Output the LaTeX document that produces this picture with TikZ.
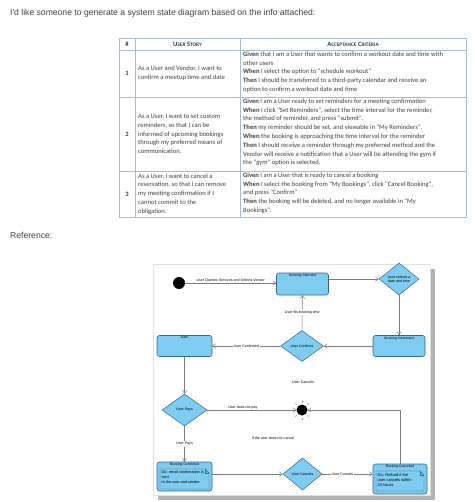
\documentclass[tikz,border=0pt]{standalone}
\usepackage{fontspec}
\usepackage{xcolor}
\usepackage{tikz}
\usetikzlibrary{arrows.meta,positioning,calc,shapes.geometric}
\newfontfamily\uifont{Liberation Sans}
\newfontfamily\tabfont{Carlito}
\definecolor{inktext}{RGB}{64,64,64}
\definecolor{tabline}{RGB}{167,187,213}
\definecolor{stfill}{RGB}{126,204,240}
\definecolor{stedge}{RGB}{52,104,140}
\definecolor{flowgray}{RGB}{125,125,125}
\newcommand{\fsc}[2]{#1{\fontsize{5.3}{6}\selectfont #2}}
\newcommand{\umlstate}[6]{\node[stbox,minimum width=#4,minimum height=#5] (#1) at (#2,#3) {};
  \node[sttitle] (#1t) at (#1.north) {#6};}
\newcommand{\umlnote}[4]{\draw[notebox] (#1,#2) -- (#3-4,#2) -- (#3,#2+4) -- (#3,#4) -- (#1,#4) -- cycle;
  \draw[notebox,fill=none] (#3-4,#2) -- (#3-4,#2+4) -- (#3,#2+4);}

\begin{document}
\begin{tikzpicture}[x=1pt,y=-1pt,
  stbox/.style={draw=stedge,fill=stfill,rounded corners=2.5pt,line width=0.6pt,inner sep=0pt},
  sttitle/.style={anchor=north,font=\uifont\fontsize{3.4}{4}\selectfont,inner sep=1.2pt},
  choice/.style={diamond,draw=stedge,fill=stfill,line width=0.5pt,inner sep=0pt,align=center,font=\uifont\fontsize{3.6}{4.4}\selectfont},
  flow/.style={draw=flowgray,line width=0.5pt,-{Straight Barb[length=3pt,width=4.5pt]}},
  lbl/.style={fill=white,inner sep=1pt,font=\uifont\fontsize{3.6}{4.2}\selectfont},
  notebox/.style={draw=stedge,fill=stfill,line width=0.4pt},
  notetxt/.style={anchor=north west,inner sep=0pt,align=left,font=\uifont\fontsize{3.8}{5}\selectfont},
  tabtxt/.style={inner sep=0pt,align=left,text=inktext,font=\tabfont\fontsize{6.6}{8.8}\selectfont},
  uitxt/.style={anchor=west,inner sep=0pt,text=inktext,font=\uifont\fontsize{8.6}{10}\selectfont}]
\useasboundingbox[fill=white] (0,0) rectangle (474,502);

% request text
\node[uitxt] (ask) at (10,13) {I'd like someone to generate a system state diagram based on the info attached:};
\node[uitxt] (refword) at (10,235) {Reference:};

% user story table
\draw[tabline,line width=0.6pt] (119,38) rectangle (466,217);
\foreach \y in {50,97,171} \draw[tabline,line width=0.6pt] (119,\y) -- (466,\y);
\foreach \x in {135,240} \draw[tabline,line width=0.6pt] (\x,38) -- (\x,217);
\node[tabtxt,font=\tabfont\bfseries\fontsize{6.6}{8}\selectfont] (hdrNum) at (127,44) {\#};
\node[tabtxt,font=\tabfont\bfseries\fontsize{6.6}{8}\selectfont] (hdrStory) at (187.5,44) {\fsc{U}{SER} \fsc{S}{TORY}};
\node[tabtxt,font=\tabfont\bfseries\fontsize{6.6}{8}\selectfont] (hdrCrit) at (353,44) {\fsc{A}{CCEPTANCE} \fsc{C}{RITERIA}};
\node[tabtxt,font=\tabfont\bfseries\fontsize{6.6}{8}\selectfont] (num1) at (127,73.5) {1};
\node[tabtxt,font=\tabfont\bfseries\fontsize{6.6}{8}\selectfont] (num2) at (127,134) {2};
\node[tabtxt,font=\tabfont\bfseries\fontsize{6.6}{8}\selectfont] (num3) at (127,194) {3};
\node[tabtxt,anchor=west] (story1) at (138,73.5) {As a User and Vendor, I want to\\confirm a meetup time and date};
\node[tabtxt,anchor=west] (story2) at (138,134) {As a User, I want to set custom\\reminders, so that I can be\\informed of upcoming bookings\\through my preferred means of\\communication.};
\node[tabtxt,anchor=west] (story3) at (138,194) {As a User, I want to cancel a\\reservation, so that I can remove\\my meeting confirmation if I\\cannot commit to the\\obligation.};
\node[tabtxt,anchor=north west] (crit1) at (243,51.5) {\textbf{Given} that I am a User that wants to confirm a workout date and time with\\other users\\\textbf{When} I select the option to "schedule workout"\\\textbf{Then} I should be transferred to a third-party calendar and receive an\\option to confirm a workout date and time};
\node[tabtxt,anchor=north west] (crit2) at (243,98.5) {\textbf{Given} I am a User ready to set reminders for a meeting confirmation\\\textbf{When} I click "Set Reminders", select the time interval for the reminder,\\the method of reminder, and press "submit".\\\textbf{Then} my reminder should be set, and viewable in "My Reminders".\\\textbf{When} the booking is approaching the time interval for the reminder\\\textbf{Then} I should receive a reminder through my preferred method and the\\Vendor will receive a notification that a User will be attending the gym if\\the "gym" option is selected.};
\node[tabtxt,anchor=north west] (crit3) at (243,172.5) {\textbf{Given} I am a User that is ready to cancel a booking\\\textbf{When} I select the booking from "My Bookings", click "Cancel Booking",\\and press "Confirm"\\\textbf{Then} the booking will be deleted, and no longer available in "My\\Bookings".};

% diagram sheet
\fill[black!30] (158,269) rectangle (435,500);
\fill[white] (153,264) rectangle (430,495);
\draw[black!12] (153,264) rectangle (430,495);

% states and choices
\node[circle,fill=black,minimum size=12pt,inner sep=0pt] (start) at (179,283) {};
\umlstate{bsel}{302.5}{284}{52pt}{22pt}{Booking Selected}
\node[choice,minimum width=40pt,minimum height=32pt] (pick) at (399,279) {User selects a\\date and time};
\umlstate{bsch}{399}{346}{52pt}{21pt}{Booking Scheduled}
\node[choice,minimum width=43pt,minimum height=31pt] (conf) at (302,346) {User Confirms};
\umlstate{date}{184.5}{346}{55pt}{21pt}{Date}
\node[choice,minimum width=45pt,minimum height=32pt] (pays) at (184.5,410) {User Pays};
\node[circle,fill=black,minimum size=11pt,inner sep=0pt] (fin) at (302,410) {};
\foreach \a in {0,45,...,315} \draw[black!35,line width=0.4pt] (fin) ++(\a:7.5) -- ++(\a:2.5);
\umlstate{bconf}{184.5}{476.5}{55pt}{29pt}{Booking Confirmed}
\umlnote{160}{469}{209}{489}
\node[notetxt] (bconfdo) at (161.5,471) {Do: email confirmation is\\sent\\to the user and vendor};
\node[choice,minimum width=39pt,minimum height=32pt] (canc) at (302.5,474) {User Cancels};
\umlstate{bcan}{400}{479}{54pt}{30pt}{Booking Cancelled}
\umlnote{376}{471}{424}{491}
\node[notetxt,font=\uifont\fontsize{4}{5}\selectfont] (bcando) at (377.5,473) {Do: Refund if the\\user cancels within\\24 hours};

% transitions
\draw[flow] (start) -- node[lbl,above,fill=none,inner sep=0.8pt] {User Queries Services and Selects Vendor} (start -| bsel.west);
\draw[flow] (bsel.east |- pick) -- (pick.west);
\draw[flow] (pick.south) -- (bsch.north);
\draw[flow] (bsch.west) -- (conf.east);
\draw[flow] (conf.north) -- node[lbl] {User fits booking time} (bsel.south);
\draw[flow] (conf.west) -- node[lbl] {User Confirmed} (date.east);
\draw[flow] (date.south) -- (pays.north);
\draw[flow] (pays.east) -- node[lbl,above,pos=0.4,fill=none] {User does not pay} (fin.west);
\draw[flow] (pays.south) -- node[lbl] {User Pays} (bconf.north);
\draw[flow] (bconf.east |- canc) -- (canc.west);
\draw[flow] (canc.east) -- node[lbl,pos=0.4] {User Cancels} (bcan.west |- canc);
\draw[flow] (bcan.north) |- (fin.east);
\node[lbl,fill=none] (cancnote) at (303,382) {User Cancels};
\node[lbl,fill=none] (staynote) at (273,438) {If the user does not cancel};
\end{tikzpicture}
\end{document}
